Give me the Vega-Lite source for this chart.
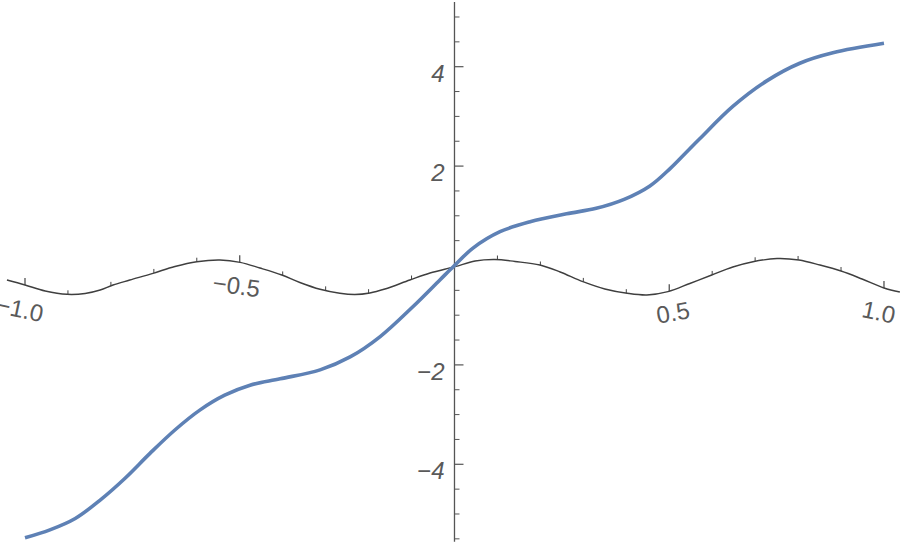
{
  "$schema": "https://vega.github.io/schema/vega-lite/v6.json",
  "width": 900,
  "height": 554,
  "autosize": {"type": "none"},
  "padding": 0,
  "background": "white",
  "config": {"view": {"stroke": null}, "axis": {"disable": true}},
  "datasets": {
    "curve": [
      {"x": -1.0, "y": -5.48}, {"x": -0.942, "y": -5.32}, {"x": -0.883, "y": -5.09}, {"x": -0.825, "y": -4.72},
      {"x": -0.767, "y": -4.28}, {"x": -0.709, "y": -3.78}, {"x": -0.651, "y": -3.31}, {"x": -0.593, "y": -2.91},
      {"x": -0.535, "y": -2.61}, {"x": -0.476, "y": -2.41}, {"x": -0.406, "y": -2.28}, {"x": -0.313, "y": -2.1},
      {"x": -0.243, "y": -1.84}, {"x": -0.173, "y": -1.43}, {"x": -0.097, "y": -0.83}, {"x": -0.034, "y": -0.29},
      {"x": 0.0, "y": 0.0}, {"x": 0.043, "y": 0.35}, {"x": 0.106, "y": 0.68}, {"x": 0.176, "y": 0.88},
      {"x": 0.261, "y": 1.04}, {"x": 0.33, "y": 1.15}, {"x": 0.395, "y": 1.33}, {"x": 0.455, "y": 1.6},
      {"x": 0.502, "y": 1.95}, {"x": 0.541, "y": 2.29}, {"x": 0.571, "y": 2.55}, {"x": 0.648, "y": 3.2},
      {"x": 0.728, "y": 3.72}, {"x": 0.804, "y": 4.07}, {"x": 0.881, "y": 4.28}, {"x": 1.0, "y": 4.47}
    ],
    "wave": [
      {"x": -1.042, "y": -0.292}, {"x": -1.0, "y": -0.392}, {"x": -0.953, "y": -0.513}, {"x": -0.902, "y": -0.58},
      {"x": -0.86, "y": -0.563}, {"x": -0.825, "y": -0.493}, {"x": -0.795, "y": -0.392}, {"x": -0.756, "y": -0.292},
      {"x": -0.702, "y": -0.157}, {"x": -0.651, "y": -0.02}, {"x": -0.6, "y": 0.076}, {"x": -0.546, "y": 0.111},
      {"x": -0.499, "y": 0.064}, {"x": -0.453, "y": -0.05}, {"x": -0.402, "y": -0.191}, {"x": -0.36, "y": -0.342},
      {"x": -0.313, "y": -0.479}, {"x": -0.267, "y": -0.559}, {"x": -0.232, "y": -0.584}, {"x": -0.197, "y": -0.553},
      {"x": -0.162, "y": -0.473}, {"x": -0.104, "y": -0.292}, {"x": -0.057, "y": -0.151}, {"x": 0.001, "y": -0.024},
      {"x": 0.048, "y": 0.091}, {"x": 0.094, "y": 0.121}, {"x": 0.141, "y": 0.081}, {"x": 0.199, "y": 0.01},
      {"x": 0.246, "y": -0.131}, {"x": 0.299, "y": -0.326}, {"x": 0.35, "y": -0.473}, {"x": 0.402, "y": -0.559},
      {"x": 0.448, "y": -0.594}, {"x": 0.497, "y": -0.527}, {"x": 0.548, "y": -0.362}, {"x": 0.599, "y": -0.191},
      {"x": 0.648, "y": -0.03}, {"x": 0.695, "y": 0.076}, {"x": 0.751, "y": 0.141}, {"x": 0.802, "y": 0.111},
      {"x": 0.851, "y": 0.01}, {"x": 0.9, "y": -0.111}, {"x": 0.949, "y": -0.272}, {"x": 1.0, "y": -0.453},
      {"x": 1.037, "y": -0.534}
    ],
    "xticks": [
      {"t": -1.0, "base": -0.392, "kind": "major", "label": "−1.0"},
      {"t": -0.9, "base": -0.58, "kind": "minor", "label": ""},
      {"t": -0.8, "base": -0.41, "kind": "minor", "label": ""},
      {"t": -0.7, "base": -0.15, "kind": "minor", "label": ""},
      {"t": -0.6, "base": 0.076, "kind": "minor", "label": ""},
      {"t": -0.5, "base": 0.064, "kind": "major", "label": "−0.5"},
      {"t": -0.4, "base": -0.2, "kind": "minor", "label": ""},
      {"t": -0.3, "base": -0.5, "kind": "minor", "label": ""},
      {"t": -0.2, "base": -0.557, "kind": "minor", "label": ""},
      {"t": -0.1, "base": -0.282, "kind": "minor", "label": ""},
      {"t": 0.1, "base": 0.12, "kind": "minor", "label": ""},
      {"t": 0.2, "base": 0.0, "kind": "minor", "label": ""},
      {"t": 0.3, "base": -0.33, "kind": "minor", "label": ""},
      {"t": 0.4, "base": -0.557, "kind": "minor", "label": ""},
      {"t": 0.5, "base": -0.52, "kind": "major", "label": "0.5"},
      {"t": 0.6, "base": -0.19, "kind": "minor", "label": ""},
      {"t": 0.7, "base": 0.085, "kind": "minor", "label": ""},
      {"t": 0.8, "base": 0.111, "kind": "minor", "label": ""},
      {"t": 0.9, "base": -0.111, "kind": "minor", "label": ""},
      {"t": 1.0, "base": -0.453, "kind": "major", "label": "1.0"}
    ],
    "yticks": [
      {"v": 5.0, "kind": "minor", "label": ""}, {"v": 4.5, "kind": "minor", "label": ""},
      {"v": 4.0, "kind": "major", "label": "4"}, {"v": 3.5, "kind": "minor", "label": ""},
      {"v": 3.0, "kind": "minor", "label": ""}, {"v": 2.5, "kind": "minor", "label": ""},
      {"v": 2.0, "kind": "major", "label": "2"}, {"v": 1.5, "kind": "minor", "label": ""},
      {"v": 1.0, "kind": "minor", "label": ""}, {"v": 0.5, "kind": "minor", "label": ""},
      {"v": -0.5, "kind": "minor", "label": ""}, {"v": -1.0, "kind": "minor", "label": ""},
      {"v": -1.5, "kind": "minor", "label": ""}, {"v": -2.0, "kind": "major", "label": "−2"},
      {"v": -2.5, "kind": "minor", "label": ""}, {"v": -3.0, "kind": "minor", "label": ""},
      {"v": -3.5, "kind": "minor", "label": ""}, {"v": -4.0, "kind": "major", "label": "−4"},
      {"v": -4.5, "kind": "minor", "label": ""}, {"v": -5.0, "kind": "minor", "label": ""},
      {"v": -5.5, "kind": "minor", "label": ""}
    ],
    "axisline": [{"x": 0, "y1": -5.56, "y2": 5.3}]
  },
  "layer": [
    {
      "data": {"name": "wave"},
      "mark": {"type": "line", "color": "#3f3f3f", "strokeWidth": 1.4, "interpolate": "catmull-rom"},
      "encoding": {
        "x": {"field": "x", "type": "quantitative", "scale": {"domain": [-1.0582, 1.0373], "nice": false, "zero": false}},
        "y": {"field": "y", "type": "quantitative", "scale": {"domain": [-5.805, 5.342], "nice": false, "zero": false}}
      }
    },
    {
      "data": {"name": "xticks"},
      "transform": [{"filter": "datum.kind == 'major'"}],
      "mark": {"type": "rule", "color": "#444444", "strokeWidth": 1.2, "y2Offset": -7},
      "encoding": {
        "x": {"field": "t", "type": "quantitative"},
        "y": {"field": "base", "type": "quantitative"},
        "y2": {"field": "base"}
      }
    },
    {
      "data": {"name": "xticks"},
      "transform": [{"filter": "datum.kind == 'minor'"}],
      "mark": {"type": "rule", "color": "#444444", "strokeWidth": 1, "y2Offset": -4},
      "encoding": {
        "x": {"field": "t", "type": "quantitative"},
        "y": {"field": "base", "type": "quantitative"},
        "y2": {"field": "base"}
      }
    },
    {
      "data": {"name": "xticks"},
      "transform": [{"filter": "datum.t == -1 || datum.t == 1"}],
      "mark": {"type": "text", "font": "Liberation Sans", "fontSize": 24, "color": "#5a5a5a", "dy": 26, "angle": 12, "baseline": "middle", "align": "center"},
      "encoding": {
        "x": {"field": "t", "type": "quantitative"},
        "y": {"field": "base", "type": "quantitative"},
        "text": {"field": "label"}
      }
    },
    {
      "data": {"name": "xticks"},
      "transform": [{"filter": "datum.t == -0.5"}],
      "mark": {"type": "text", "font": "Liberation Sans", "fontSize": 24, "color": "#5a5a5a", "dy": 25, "angle": 8, "baseline": "middle", "align": "center"},
      "encoding": {
        "x": {"field": "t", "type": "quantitative"},
        "y": {"field": "base", "type": "quantitative"},
        "text": {"field": "label"}
      }
    },
    {
      "data": {"name": "xticks"},
      "transform": [{"filter": "datum.t == 0.5"}],
      "mark": {"type": "text", "font": "Liberation Sans", "fontSize": 24, "color": "#5a5a5a", "dy": 23, "angle": -10, "baseline": "middle", "align": "center"},
      "encoding": {
        "x": {"field": "t", "type": "quantitative"},
        "y": {"field": "base", "type": "quantitative"},
        "text": {"field": "label"}
      }
    },
    {
      "data": {"name": "axisline"},
      "mark": {"type": "rule", "color": "#555555", "strokeWidth": 1.3},
      "encoding": {
        "x": {"field": "x", "type": "quantitative"},
        "y": {"field": "y1", "type": "quantitative"},
        "y2": {"field": "y2"}
      }
    },
    {
      "data": {"name": "yticks"},
      "transform": [{"filter": "datum.kind == 'major'"}],
      "mark": {"type": "rule", "color": "#555555", "strokeWidth": 1.2, "x2Offset": 9},
      "encoding": {
        "y": {"field": "v", "type": "quantitative"},
        "x": {"datum": 0, "type": "quantitative"},
        "x2": {"datum": 0}
      }
    },
    {
      "data": {"name": "yticks"},
      "transform": [{"filter": "datum.kind == 'minor'"}],
      "mark": {"type": "rule", "color": "#555555", "strokeWidth": 1, "x2Offset": 5},
      "encoding": {
        "y": {"field": "v", "type": "quantitative"},
        "x": {"datum": 0, "type": "quantitative"},
        "x2": {"datum": 0}
      }
    },
    {
      "data": {"name": "yticks"},
      "transform": [{"filter": "datum.kind == 'major'"}],
      "mark": {"type": "text", "font": "Liberation Sans", "fontSize": 24, "fontStyle": "italic", "color": "#5a5a5a", "align": "right", "baseline": "middle", "dx": -10, "dy": 8},
      "encoding": {
        "y": {"field": "v", "type": "quantitative"},
        "x": {"datum": 0, "type": "quantitative"},
        "text": {"field": "label"}
      }
    },
    {
      "data": {"name": "curve"},
      "mark": {"type": "line", "color": "#5E81B5", "strokeWidth": 3.6, "interpolate": "catmull-rom"},
      "encoding": {
        "x": {"field": "x", "type": "quantitative"},
        "y": {"field": "y", "type": "quantitative"}
      }
    }
  ]
}
